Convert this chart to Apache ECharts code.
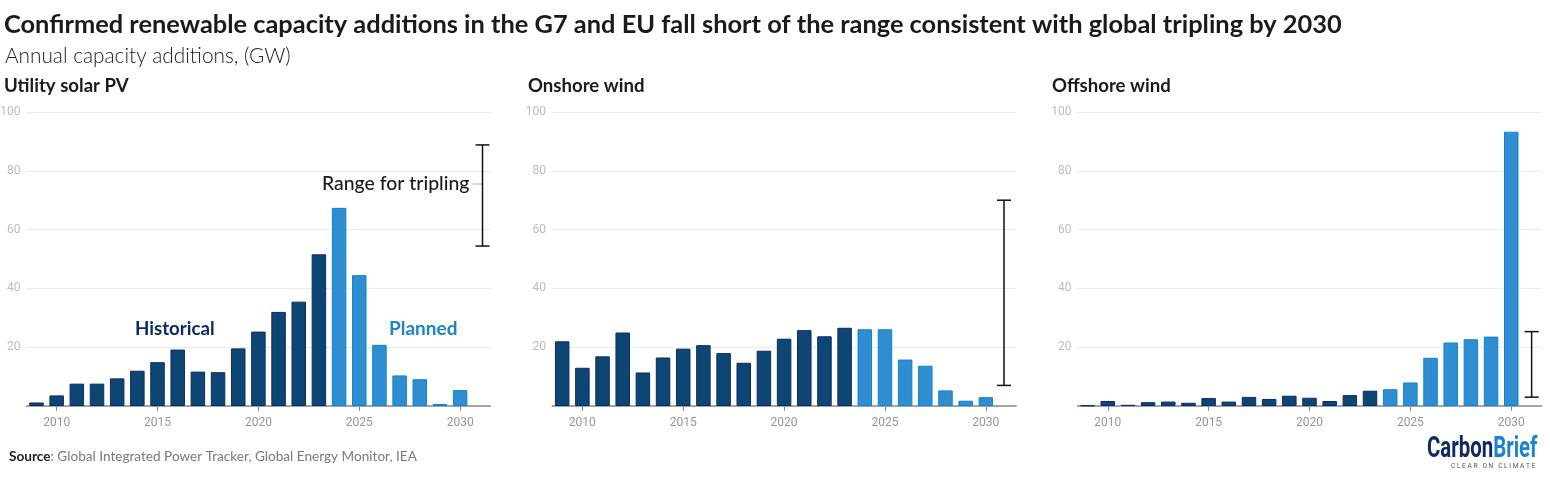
<!DOCTYPE html>
<html><head><meta charset="utf-8">
<style>html,body{margin:0;padding:0;background:#fff}#c{width:1550px;height:477px}</style>
<script src="https://cdn.jsdelivr.net/npm/echarts@6/dist/echarts.min.js"></script>
</head><body><div id="c"></div>
<script>
const years = ['2009','2010','2011','2012','2013','2014','2015','2016','2017','2018','2019','2020','2021','2022','2023','2024','2025','2026','2027','2028','2029','2030','2031'];
const firstPlannedYear = 2024;
const solar = [1.2,3.6,7.6,7.6,9.4,12,14.9,19.2,11.7,11.5,19.6,25.3,32,35.5,51.6,67.4,44.5,20.8,10.4,9.1,0.7,5.4];
const onshore = [22,13,16.9,25,11.4,16.5,19.5,20.7,18,14.7,18.8,22.9,25.8,23.7,26.6,26.1,26.1,15.8,13.7,5.3,1.8,3];
const offshore = [0.2,1.7,0.4,1.3,1.5,1.1,2.7,1.5,3.1,2.4,3.5,2.8,1.7,3.7,5.2,5.7,8,16.4,21.6,22.7,23.6,93.3];
const solarRange = [54.4,88.8];
const onshoreRange = [7,70];
const offshoreRange = [3,25.3];
const panelTitles = ['Utility solar PV','Onshore wind','Offshore wind'];
const rangeXOffsets = [2.2,-2,0.2];

const PANELS = [{left:26.4,series:solar,range:solarRange},{left:552.1,series:onshore,range:onshoreRange},{left:1077.5,series:offshore,range:offshoreRange}];
const W = 464, TOP = 112, H = 294;
const TEXT = 'Lato';
const HIST = '#0e4673', HISTB = '#0b2a6e', PLAN = '#2f8dd0', PLANB = '#0d84d8';

const grid=[],xAxis=[],yAxis=[],series=[];
PANELS.forEach((p,i)=>{
  grid.push({left:p.left,top:TOP,width:W,height:H,outerBoundsMode:'none',containLabel:false});
  xAxis.push({type:'category',gridIndex:i,data:years,boundaryGap:true,
    axisLine:{lineStyle:{color:'#8a8a8a',width:1.5}},
    axisTick:{show:true,alignWithLabel:true,length:5,lineStyle:{color:'#8a8a8a'},interval:(idx,v)=>+v%5===0},
    axisLabel:{interval:(idx,v)=>+v%5===0,color:'#969696',fontFamily:'Roboto',fontSize:12,margin:11}});
  yAxis.push({type:'value',gridIndex:i,min:0,max:100,interval:20,
    axisLine:{show:false},axisTick:{show:false},
    splitLine:{lineStyle:{color:'#ececec',width:1}},
    axisLabel:{color:'#bcbcbc',fontFamily:'Roboto',fontSize:12,margin:6,
      formatter:v=>v===0?'':String(v)}});
  series.push({type:'bar',xAxisIndex:i,yAxisIndex:i,barWidth:14.5,silent:true,
    data:p.series.map((v,k)=>{
      const planned=+years[k]>=firstPlannedYear;
      return {value:v,itemStyle:{color:planned?PLAN:HIST,borderColor:planned?PLANB:HISTB,borderWidth:1}};
    })});
  series.push({type:'custom',xAxisIndex:i,yAxisIndex:i,silent:true,z:5,
    data:[[years.length-1,p.range[0],p.range[1]]],
    encode:{x:0,y:[1,2]},
    renderItem:(params,api)=>{
      const a=api.coord([api.value(0),api.value(1)]),b=api.coord([api.value(0),api.value(2)]);
      const x=a[0]+rangeXOffsets[i];
      const st={stroke:'#111',lineWidth:1.5,fill:null};
      const seg=(x1,y1,x2,y2)=>({type:'line',shape:{x1,y1,x2,y2},style:st});
      return {type:'group',children:[seg(x,a[1],x,b[1]),seg(x-7,a[1],x+7,a[1]),seg(x-7,b[1],x+7,b[1])]};
    }});
});

const txt=(x,y,t,size,weight,color,font)=>({type:'text',x:x,y:y,silent:true,z:10,
  style:{text:t,fontSize:size,fontWeight:weight,fill:color,fontFamily:font||TEXT,textBaseline:'middle',verticalAlign:'middle'}});

const graphic=[
  txt(4,25,'Confirmed renewable capacity additions in the G7 and EU fall short of the range consistent with global tripling by 2030',25.4,700,'#1a1a1a'),
  txt(5,56,'Annual capacity additions, (GW)',20.8,300,'#222'),
  txt(4,86,panelTitles[0],18.6,700,'#1a1a1a'),
  txt(528,86,panelTitles[1],18.6,700,'#1a1a1a'),
  txt(1052,86,panelTitles[2],18.6,700,'#1a1a1a'),
  txt(322,184,'Range for tripling',19.4,500,'#1a1a1a'),
  txt(135,329,'Historical',18.7,700,'#0b2a6e'),
  txt(389,329,'Planned',19,700,'#1a84d0'),
  {type:'line',silent:true,shape:{x1:473,y1:184,x2:483,y2:184},style:{stroke:'#aaa',lineWidth:1}},
  {type:'text',x:9,y:457,silent:true,style:{verticalAlign:'middle',
    text:'{b|Source}{n|: Global Integrated Power Tracker, Global Energy Monitor, IEA}',
    rich:{b:{fontFamily:TEXT,fontSize:13.6,fontWeight:700,fill:'#222'},n:{fontFamily:TEXT,fontSize:13.6,fill:'#7a7a7a'}}}},
  {type:'text',x:1427,y:449,scaleX:0.68,silent:true,style:{verticalAlign:'middle',
    text:'{a|Carbon}{b|Brief}',
    rich:{a:{fontFamily:'Roboto',fontSize:30,fontWeight:700,fill:'#0f2a63'},
          b:{fontFamily:'Roboto',fontSize:30,fontWeight:700,fill:'#1a84d0'}}}},
  txt(1451,466,'C L E A R   O N   C L I M A T E',6.6,400,'#555','Roboto')
];

const chart=echarts.init(document.getElementById('c'),null,{renderer:'canvas'});
chart.setOption({animation:false,backgroundColor:'#fff',grid,xAxis,yAxis,series,graphic});
</script></body></html>
